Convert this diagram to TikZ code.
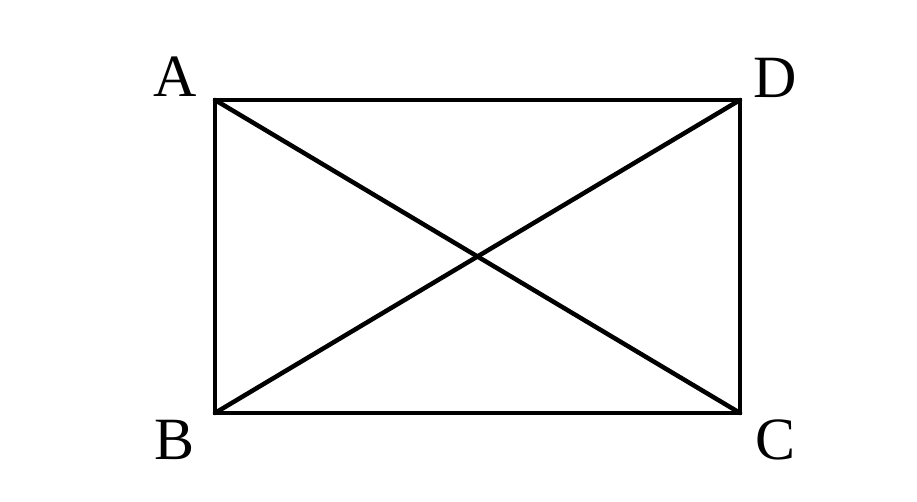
\documentclass[tikz,border=0pt]{standalone}
\usepackage{fontspec}
\setmainfont{Liberation Serif}
\usetikzlibrary{positioning}

\begin{document}
\begin{tikzpicture}[x=1pt,y=-1pt,
    edge/.style={line width=4.5pt, line cap=round, line join=miter},
    vlabel/.style={font=\fontsize{60}{60}\selectfont, inner sep=0pt}]
    % Bounding box
    \useasboundingbox (0,0) rectangle (917,502);

    % Corners
    \coordinate (A) at (215,100);
    \coordinate (B) at (215,413);
    \coordinate (C) at (740,413);
    \coordinate (D) at (740,100);

    % Rectangle and diagonals
    \draw[edge] (A) -- (D) -- (C) -- (B) -- cycle;
    \draw[edge] (A) -- (C);
    \draw[edge] (B) -- (D);

    % Vertex labels
    \node[vlabel] (labA) at (175,77) {A};
    \node[vlabel] (labD) at (775,78) {D};
    \node[vlabel] (labB) at (175,440) {B};
    \node[vlabel] (labC) at (775,440) {C};
\end{tikzpicture}
\end{document}
